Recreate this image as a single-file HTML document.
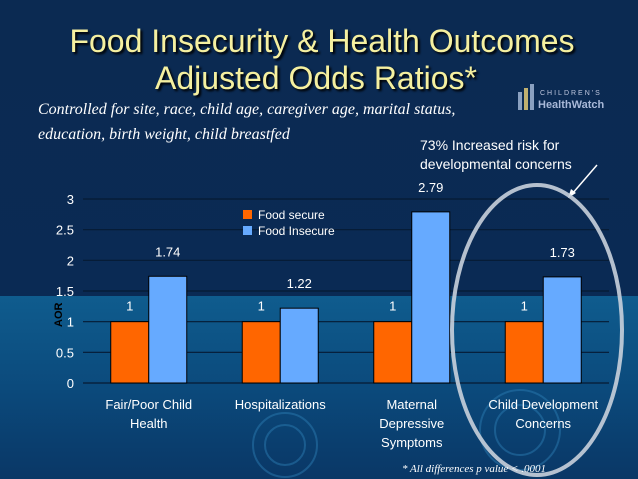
<!DOCTYPE html>
<html><head><meta charset="utf-8">
<style>
html,body{margin:0;padding:0;width:638px;height:479px;overflow:hidden;}
body{background:#0a2548;font-family:"Liberation Sans",sans-serif;}
svg{display:block;overflow:hidden;}
</style></head>
<body>
<svg width="638" height="479" viewBox="0 0 638 479" xmlns="http://www.w3.org/2000/svg">
<defs>
<linearGradient id="bg" x1="0" y1="0" x2="0" y2="1">
<stop offset="0" stop-color="#0b2a52"/><stop offset="1" stop-color="#0a2a55"/>
</linearGradient>
<linearGradient id="band" x1="0" y1="0" x2="0" y2="1">
<stop offset="0" stop-color="#0f5c8e"/><stop offset="0.5" stop-color="#0b4a7c"/><stop offset="1" stop-color="#0a3766"/>
</linearGradient>
</defs>
<rect width="638" height="479" fill="url(#bg)"/>
<rect y="296" width="638" height="183" fill="url(#band)"/>
<g fill="none" stroke="#2a7ab0" stroke-width="2" opacity="0.5">
<circle cx="285" cy="445" r="20"/><circle cx="285" cy="445" r="32"/>
<circle cx="520" cy="430" r="25"/><circle cx="520" cy="430" r="40"/>
</g>
<g font-family="'Liberation Sans',sans-serif" font-size="32" fill="#f5f0a0" text-anchor="middle" style="text-shadow:2px 2px 2px #000">
<text x="322" y="52">Food Insecurity &amp; Health Outcomes</text>
<text x="316" y="89">Adjusted Odds Ratios*</text>
</g>
<g>
<rect x="518" y="92" width="4" height="18" fill="#8aa0c0"/><rect x="524" y="88" width="4" height="22" fill="#c0b070"/><rect x="530" y="84" width="4" height="26" fill="#8aa0c0"/>
<text x="540" y="95" font-size="7" fill="#c0c8e0" letter-spacing="2">CHILDREN'S</text>
<text x="538" y="108" font-size="11" font-weight="bold" fill="#a8b8d8">HealthWatch</text>
</g>
<g font-family="'Liberation Serif',serif" font-style="italic" font-size="16" fill="#fff">
<text x="38" y="114">Controlled for site, race, child age, caregiver age, marital status,</text>
<text x="38" y="139">education, birth weight, child breastfed</text>
</g>
<g font-size="14" fill="#fff">
<text x="420" y="150">73% Increased risk for</text>
<text x="420" y="169">developmental concerns</text>
</g>
<line x1="597" y1="165" x2="572" y2="194" stroke="#fff" stroke-width="1.5"/>
<polygon points="568,198 571,189 576,193" fill="#fff"/>
<g id="chart"></g>
<ellipse cx="537" cy="330" rx="85" ry="145" fill="none" stroke="#c8d0dc" stroke-width="4" opacity="0.9"/>
<text x="402" y="472" font-family="'Liberation Serif',serif" font-style="italic" font-size="11" fill="#fff">* All differences p value &lt; .0001</text>
</svg>
<script>
const categories=[["Fair/Poor Child","Health"],["Hospitalizations"],["Maternal","Depressive","Symptoms"],["Child Development","Concerns"]];
const foodSecure=[1,1,1,1];
const foodInsecure=[1.74,1.22,2.79,1.73];
const ticks=[0,0.5,1,1.5,2,2.5,3];
const NS="http://www.w3.org/2000/svg";
const g=document.getElementById('chart');
const x0=83,x1=609,y0=383,yMax=3,yTop=199;
const yS=v=>y0-(v/yMax)*(y0-yTop);
const bw=(x1-x0)/categories.length;
function el(t,a,txt){const e=document.createElementNS(NS,t);for(const k in a)e.setAttribute(k,a[k]);if(txt!==undefined)e.textContent=txt;g.appendChild(e);return e;}
ticks.forEach(t=>{
 const l=el('line',{x1:x0,x2:x1,y1:yS(t),y2:yS(t),stroke:'#061a33','stroke-width':1.2});
 
 
 const tx=el('text',{x:74,y:yS(t)+5,'text-anchor':'end','font-size':13,fill:'#fff'},String(t));
 
 
});
const ax=el('text',{x:0,y:0,'font-size':11,'font-weight':'bold',fill:'#000',transform:'translate(62,327) rotate(-90)'},'AOR');


const barW=38;
categories.forEach((c,i)=>{
 const cx=x0+bw*i+bw/2;
 const a=el('rect',{x:cx-barW,y:yS(foodSecure[i]),width:barW,height:y0-yS(foodSecure[i]),fill:'#ff6600',stroke:'#000','stroke-width':1});
 
 
 const b=el('rect',{x:cx,y:yS(foodInsecure[i]),width:barW,height:y0-yS(foodInsecure[i]),fill:'#66aaff',stroke:'#000','stroke-width':1});
 
 
 const la=el('text',{x:cx-barW/2,y:yS(foodSecure[i])-11,'text-anchor':'middle','font-size':13,fill:'#fff'},String(foodSecure[i]));
 
 
 const lb=el('text',{x:cx+barW/2,y:yS(foodInsecure[i])-20,'text-anchor':'middle','font-size':13,fill:'#fff'},String(foodInsecure[i]));
 
 
 c.forEach((s,j)=>{
  const t=el('text',{x:cx,y:409+j*19,'text-anchor':'middle','font-size':13,fill:'#fff'},s);
  
  
 });
});
const legend=[["Food  secure","#ff6600"],["Food Insecure","#66aaff"]];
legend.forEach((l,i)=>{
 const r=el('rect',{x:243,y:210+i*16,width:9,height:9,fill:l[1]});
 
 
 const t=el('text',{x:258,y:219+i*16,'font-size':12,fill:'#fff'},l[0]);
 
 
});
</script>
</body></html>
